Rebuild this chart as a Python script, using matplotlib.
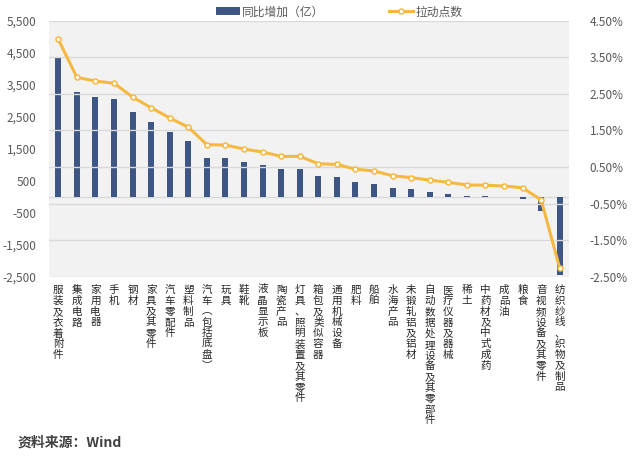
import numpy as np
import matplotlib.pyplot as plt
from matplotlib.ticker import FuncFormatter

plt.rcParams['font.family'] = ['Noto Sans CJK SC', 'DejaVu Sans']

categories = [
    "服装及衣着附件", "集成电路", "家用电器", "手机", "钢材", "家具及其零件",
    "汽车零配件", "塑料制品", "汽车︵包括底盘︶", "玩具", "鞋靴", "液晶显示板",
    "陶瓷产品", "灯具、照明装置及其零件", "箱包及类似容器", "通用机械设备",
    "肥料", "船舶", "水海产品", "未锻轧铝及铝材", "自动数据处理设备及其零部件",
    "医疗仪器及器械", "稀土", "中药材及中式成药", "成品油", "粮食",
    "音视频设备及其零件", "纺织纱线、织物及制品",
]
increase = [4375, 3262, 3106, 3053, 2647, 2334, 2012, 1750, 1209, 1209, 1094,
            1000, 865, 865, 636, 600, 459, 397, 281, 230, 147, 75, 22, 20, 5,
            -81, -437, -2450]
pull_pct = [3.99, 2.95, 2.85, 2.79, 2.41, 2.12, 1.84, 1.59, 1.11, 1.10, 0.99,
            0.91, 0.79, 0.79, 0.59, 0.57, 0.44, 0.39, 0.26, 0.21, 0.14, 0.08,
            0.01, 0.00, -0.02, -0.07, -0.40, -2.27]

bar_color = "#3E5683"
line_color = "#F5B942"
text_color = "#595959"


def main():
    fig = plt.figure(figsize=(6.4, 4.61), dpi=100)
    ax = fig.add_axes([0.0766, 0.3998, 0.8125, 0.5553])
    ax.set_facecolor("#F2F2F2")
    ax2 = ax.twinx()

    x = np.arange(len(categories))
    ax.bar(x, increase, width=0.32, color=bar_color, zorder=3,
           label="同比增加（亿）")
    ax.axhline(0, color="#D9D9D9", lw=1, zorder=2)
    ax.set_ylim(-2500, 5500)
    ax.set_yticks(np.arange(-2500, 5501, 1000))
    ax.yaxis.set_major_formatter(FuncFormatter(lambda v, p: f"{v:,.0f}"))
    ax.set_xlim(-0.5, len(categories) - 0.5)
    ax.set_xticks(x)
    ax.set_xticklabels(["\n".join(c) for c in categories], rotation=0,
                       fontsize=7.6, linespacing=1.1, va="top",
                       color="#262626")

    ax2.plot(x, pull_pct, color=line_color, lw=2.2, marker="o", ms=3.6,
             mfc="white", mec=line_color, mew=1.1, zorder=4, label="拉动点数")
    ax2.set_ylim(-2.5, 4.5)
    ax2.set_yticks(np.arange(-2.5, 4.51, 1.0))
    ax2.yaxis.set_major_formatter(FuncFormatter(lambda v, p: f"{v:.2f}%"))
    ax2.grid(axis="y", color="#D9D9D9", lw=1, zorder=1)
    ax2.set_zorder(ax.get_zorder() + 1)
    ax2.patch.set_visible(False)

    for a in (ax, ax2):
        for s in a.spines.values():
            s.set_visible(False)
        a.tick_params(length=0, labelsize=8.5, labelcolor=text_color)
    ax.tick_params(axis="y", pad=9)
    ax2.tick_params(axis="y", pad=15)
    ax.tick_params(axis="x", pad=6, labelcolor="#262626", labelsize=7.6)

    h1, l1 = ax.get_legend_handles_labels()
    h2, l2 = ax2.get_legend_handles_labels()
    fig.legend(h1 + h2, l1 + l2, loc="center", ncol=2,
               bbox_to_anchor=(0.53, 0.974), frameon=False, fontsize=8.5,
               handlelength=2.0, handletextpad=0.2, columnspacing=5.5,
               labelcolor=text_color)

    fig.text(0.028, 0.04, "资料来源：Wind", fontsize=10, fontweight="bold",
             color="#404040", va="center")

    fig.savefig("out.png", dpi=100)


if __name__ == '__main__':
    main()
